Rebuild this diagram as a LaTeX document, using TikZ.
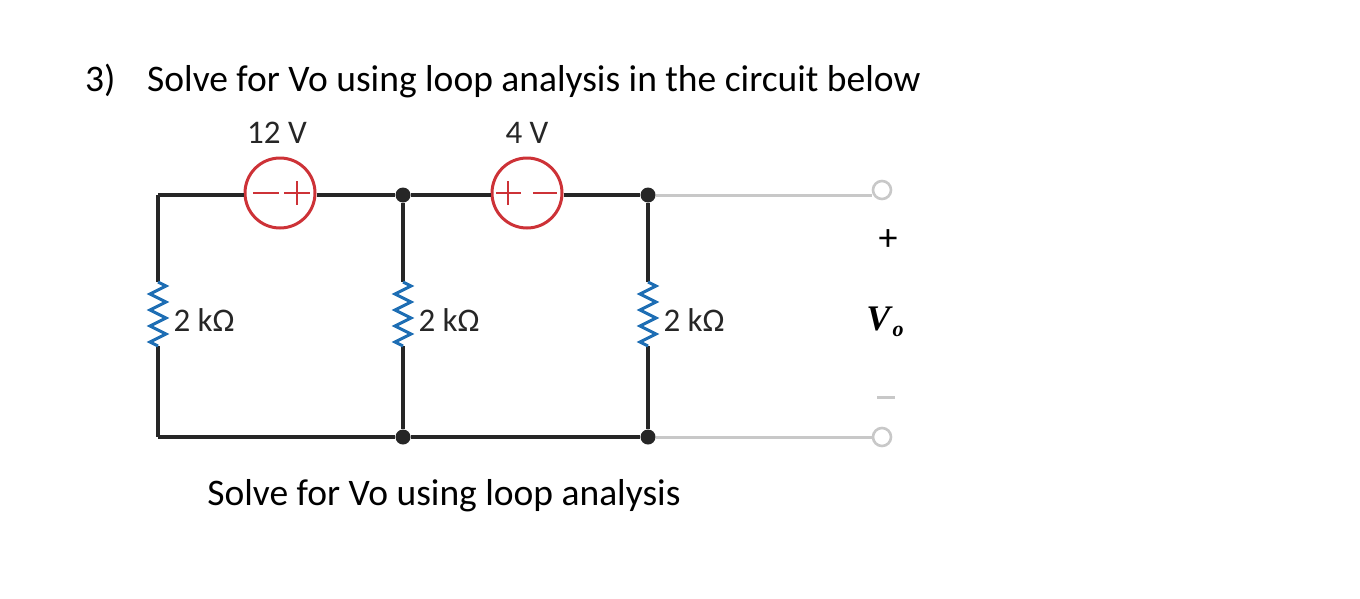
\documentclass[tikz,border=0pt]{standalone}
\usepackage{fontspec}
\setmainfont{Carlito}
\usetikzlibrary{decorations.pathmorphing,calc}
\definecolor{srcred}{RGB}{205,50,55}
\definecolor{resblue}{RGB}{30,110,180}
\definecolor{wgray}{RGB}{200,200,200}
\begin{document}
\begin{tikzpicture}[x=1pt,y=-1pt,
  wire/.style={line width=3.6pt,black!85},
  gwire/.style={line width=3pt,wgray},
  res/.style={line width=3pt,resblue,decorate,decoration={zigzag,amplitude=8pt,segment length=16pt}},
  src/.style={circle,draw=srcred,line width=3pt,minimum size=70pt,inner sep=0pt},
  dot/.style={circle,fill=black!85,minimum size=15pt,inner sep=0pt},
  term/.style={circle,draw=wgray,line width=2.6pt,fill=white,minimum size=18pt,inner sep=0pt},
  lbl/.style={font=\fontsize{33}{38}\selectfont,text=black!85}]
\useasboundingbox (0,0) rectangle (1360,598);
\node[anchor=base west,font=\fontsize{37.5}{44}\selectfont,inner sep=0pt] (title) at (85,91) {3)};
\node[anchor=base west,font=\fontsize{37.5}{44}\selectfont,inner sep=0pt] (title2) at (147,91) {Solve for Vo using loop analysis in the circuit below};
\node[anchor=base,font=\fontsize{37.5}{44}\selectfont] (sub) at (444,505) {Solve for Vo using loop analysis};
\coordinate (tl) at (158,195); \coordinate (bl) at (158,437);
\node[dot] (tm) at (403,195) {}; \node[dot] (bm) at (403,437) {};
\node[dot] (tr) at (648,195) {}; \node[dot] (br) at (648,437) {};
\node[term] (ot) at (882,190) {}; \node[term] (ob) at (882,437) {};
\node[src] (s1) at (280,193) {}; \node[src] (s2) at (527,193) {};
\draw[gwire] (tr) -- (ot.west|-tr); \draw[gwire] (br) -- (ob.west|-br);
\draw[wire] (tl) -- (s1.west|-tl); \draw[wire] (s1.east|-tl) -- (tm) -- (s2.west|-tm); \draw[wire] (s2.east|-tr) -- (tr);
\draw[wire] (bl) -- (bm) -- (br);
\foreach \n/\t/\b in {l/tl/bl,m/tm/bm,r/tr/br}{
  \coordinate (ra\n) at ($(\t|-0,195)+(0,87)$);
  \coordinate (rb\n) at ($(\t|-0,195)+(0,151)$);
  \draw[wire] (\t) -- (ra\n); \draw[wire] (rb\n) -- (\b);
  \draw[res] (ra\n) -- (rb\n);
}
\draw[srcred,line width=2.8pt] (253,193) -- (279,193) (284,193) -- (310,193) (297,181) -- (297,205);
\draw[srcred,line width=2.8pt] (496,193) -- (521,193) (508,181) -- (508,205) (533,193) -- (557,193);
\node[lbl] (v1) at (277,133) {12 V};
\node[lbl] (v2) at (527,133) {4 V};
\node[lbl,anchor=west] (r1) at (170,320) {2 kΩ};
\node[lbl,anchor=west] (r2) at (415,320) {2 kΩ};
\node[lbl,anchor=west] (r3) at (660,320) {2 kΩ};
\node[font=\fontsize{38}{42}\selectfont] (pl) at (888,240) {+};
\node (vo) at (885,322) {\fontspec{Liberation Serif}\fontsize{36}{40}\selectfont\textbf{\textit{V}}\raisebox{-6pt}{\fontsize{22}{24}\selectfont\textbf{\textit{o}}}};
\draw[wgray,line width=3pt] (877,397) -- (895,397);
\end{tikzpicture}
\end{document}
